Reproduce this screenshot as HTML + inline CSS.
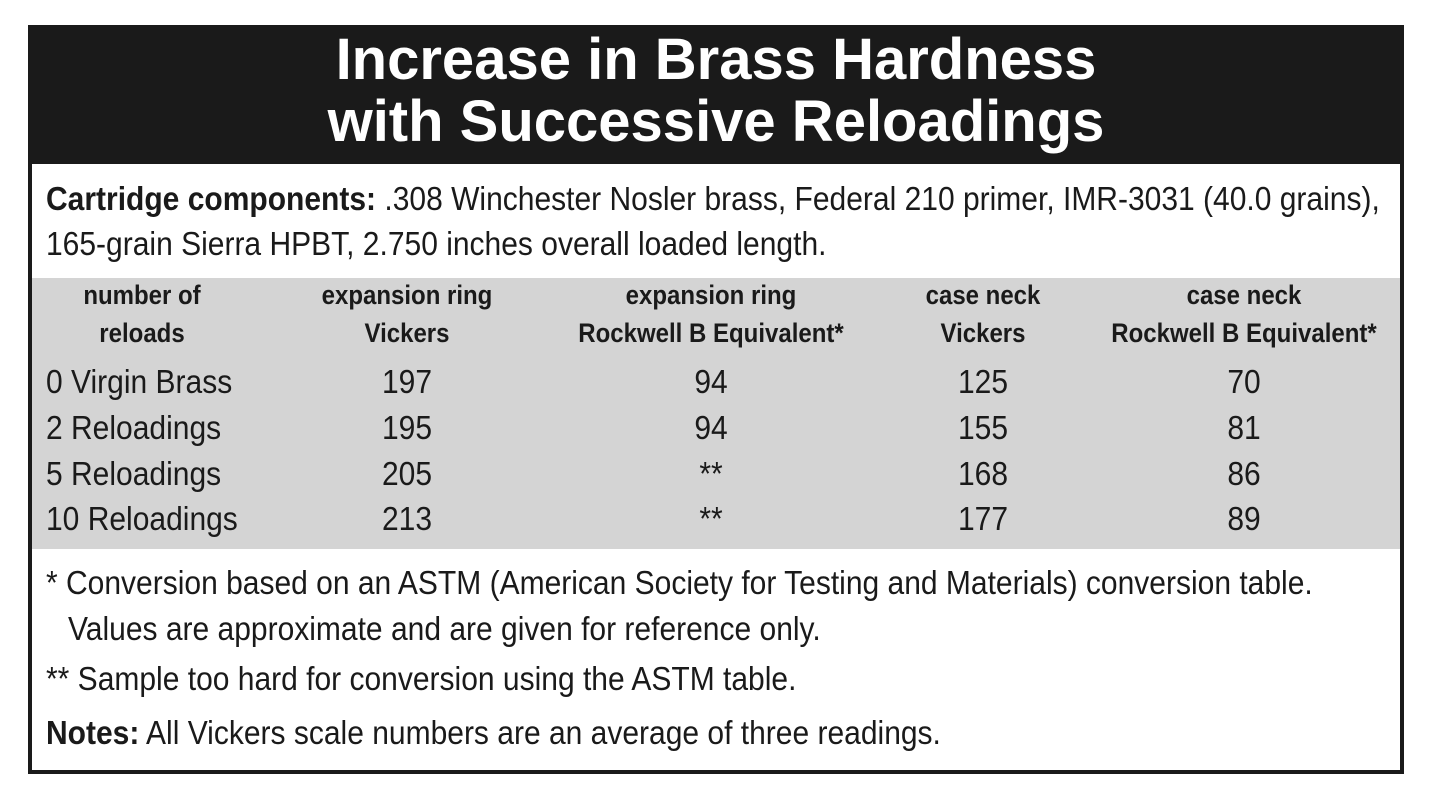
<!DOCTYPE html>
<html><head><style>
body{margin:0;width:1455px;height:802px;background:#fff;position:relative;overflow:hidden;font-family:"Liberation Sans Narrow","Liberation Sans",sans-serif;color:#1a1a1a}
.box{position:absolute;left:28px;top:25px;width:1368px;height:741px;border:4px solid #1a1a1a;background:#fff}
.hdr{position:absolute;left:28px;top:25px;width:1376px;height:139px;background:#1a1a1a}
.t{position:absolute;left:28px;width:1376px;text-align:center;color:#fff;font-family:"Liberation Sans",sans-serif;font-weight:bold;font-size:58px;line-height:62px}
.gray{position:absolute;left:32px;top:278px;width:1368px;height:271px;background:#d4d4d4}
.a{position:absolute;white-space:nowrap;font-size:30px;line-height:36px;transform:scaleY(1.12);transform-origin:left center}
.c{position:absolute;white-space:nowrap;text-align:center;transform:translateX(-50%) scaleY(1.12)}
.h{font-weight:bold;font-size:24px;line-height:34px}
.r{font-size:30px;line-height:36px}
</style></head><body>
<div class="box"></div>
<div class="hdr"></div>
<div class="t" style="top:29px">Increase in Brass Hardness</div>
<div class="t" style="top:91px">with Successive Reloadings</div>
<div class="a" style="left:46px;top:182px"><b>Cartridge components:</b> .308 Winchester Nosler brass, Federal 210 primer, IMR-3031 (40.0 grains),</div>
<div class="a" style="left:46px;top:227px">165-grain Sierra HPBT, 2.750 inches overall loaded length.</div>
<div class="gray"></div>
<div class="c h" style="left:142px;top:281px">number of<br>reloads</div>
<div class="c h" style="left:407px;top:281px">expansion ring<br>Vickers</div>
<div class="c h" style="left:711px;top:281px">expansion ring<br>Rockwell B Equivalent*</div>
<div class="c h" style="left:983px;top:281px">case neck<br>Vickers</div>
<div class="c h" style="left:1244px;top:281px">case neck<br>Rockwell B Equivalent*</div>
<div class="a" style="left:46px;top:365px">0 Virgin Brass</div>
<div class="a" style="left:46px;top:411px">2 Reloadings</div>
<div class="a" style="left:46px;top:457px">5 Reloadings</div>
<div class="a" style="left:46px;top:502px">10 Reloadings</div>
<div class="c r" style="left:407px;top:365px">197</div><div class="c r" style="left:711px;top:365px">94</div><div class="c r" style="left:983px;top:365px">125</div><div class="c r" style="left:1244px;top:365px">70</div>
<div class="c r" style="left:407px;top:411px">195</div><div class="c r" style="left:711px;top:411px">94</div><div class="c r" style="left:983px;top:411px">155</div><div class="c r" style="left:1244px;top:411px">81</div>
<div class="c r" style="left:407px;top:457px">205</div><div class="c r" style="left:711px;top:457px">**</div><div class="c r" style="left:983px;top:457px">168</div><div class="c r" style="left:1244px;top:457px">86</div>
<div class="c r" style="left:407px;top:502px">213</div><div class="c r" style="left:711px;top:502px">**</div><div class="c r" style="left:983px;top:502px">177</div><div class="c r" style="left:1244px;top:502px">89</div>
<div class="a" style="left:46px;top:566px">* Conversion based on an ASTM (American Society for Testing and Materials) conversion table.</div>
<div class="a" style="left:68px;top:612px">Values are approximate and are given for reference only.</div>
<div class="a" style="left:46px;top:662px">** Sample too hard for conversion using the ASTM table.</div>
<div class="a" style="left:46px;top:716px"><b>Notes:</b> All Vickers scale numbers are an average of three readings.</div>
</body></html>
